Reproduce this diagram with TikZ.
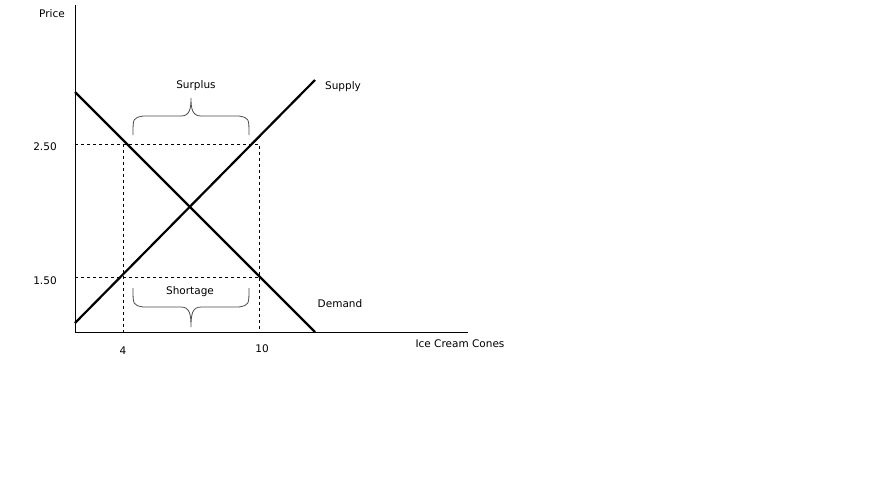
\documentclass[tikz,border=0pt]{standalone}
\usepackage{fontspec}
\setmainfont{DejaVu Sans}
\begin{document}
\begin{tikzpicture}[x=1pt,y=-1pt,
  lbl/.style={font=\fontsize{10.5}{12}\selectfont,inner sep=0pt},
  curve/.style={line width=2.2pt},
  guide/.style={dashed,thin},
  br/.style={draw=black!70,line width=0.8pt}]
\useasboundingbox[fill=white] (0,0) rectangle (888,499);
\coordinate (O) at (75,332);
\coordinate (Ytop) at (75,5);
\coordinate (Xend) at (468,332);
\draw[thin] (Ytop) -- (O) -- (Xend);
\coordinate (s1) at (75,323); \coordinate (s2) at (315,80);
\coordinate (d1) at (75,92); \coordinate (d2) at (315,332);
\draw[curve] (s1) -- (s2);
\draw[curve] (d1) -- (d2);
\coordinate (a1) at (75,144); \coordinate (a2) at (259,144);
\coordinate (b1) at (75,277); \coordinate (b2) at (259,277);
\coordinate (v1) at (123,144); \coordinate (v1b) at (123,332);
\coordinate (v2b) at (259,332);
\draw[guide] (a1) -- (a2) -- (v2b);
\draw[guide] (b1) -- (b2);
\draw[guide] (v1) -- (v1b);
\draw[br] (133,135) .. controls (133,118) .. (143,116) -- (181,116)
  .. controls (190,116) and (191,108) .. (191,98)
  .. controls (191,108) and (192,116) .. (201,116) -- (239,116)
  .. controls (249,118) .. (249,135);
\draw[br] (133,288) .. controls (133,305) .. (143,307) -- (181,307)
  .. controls (190,307) and (191,315) .. (191,327)
  .. controls (191,315) and (192,307) .. (201,307) -- (239,307)
  .. controls (249,305) .. (249,288);
\node[lbl] (price) at (52,14) {Price};
\node[lbl] (p25) at (45,147) {2.50};
\node[lbl] (p15) at (45,281) {1.50};
\node[lbl] (q4) at (123,351) {4};
\node[lbl] (q10) at (262,349) {10};
\node[lbl] (xl) at (460,344) {Ice Cream Cones};
\node[lbl] (sup) at (343,87) {Supply};
\node[lbl] (dem) at (340,304) {Demand};
\node[lbl] (surp) at (196,86) {Surplus};
\node[lbl] (short) at (190,292) {Shortage};
\end{tikzpicture}
\end{document}
